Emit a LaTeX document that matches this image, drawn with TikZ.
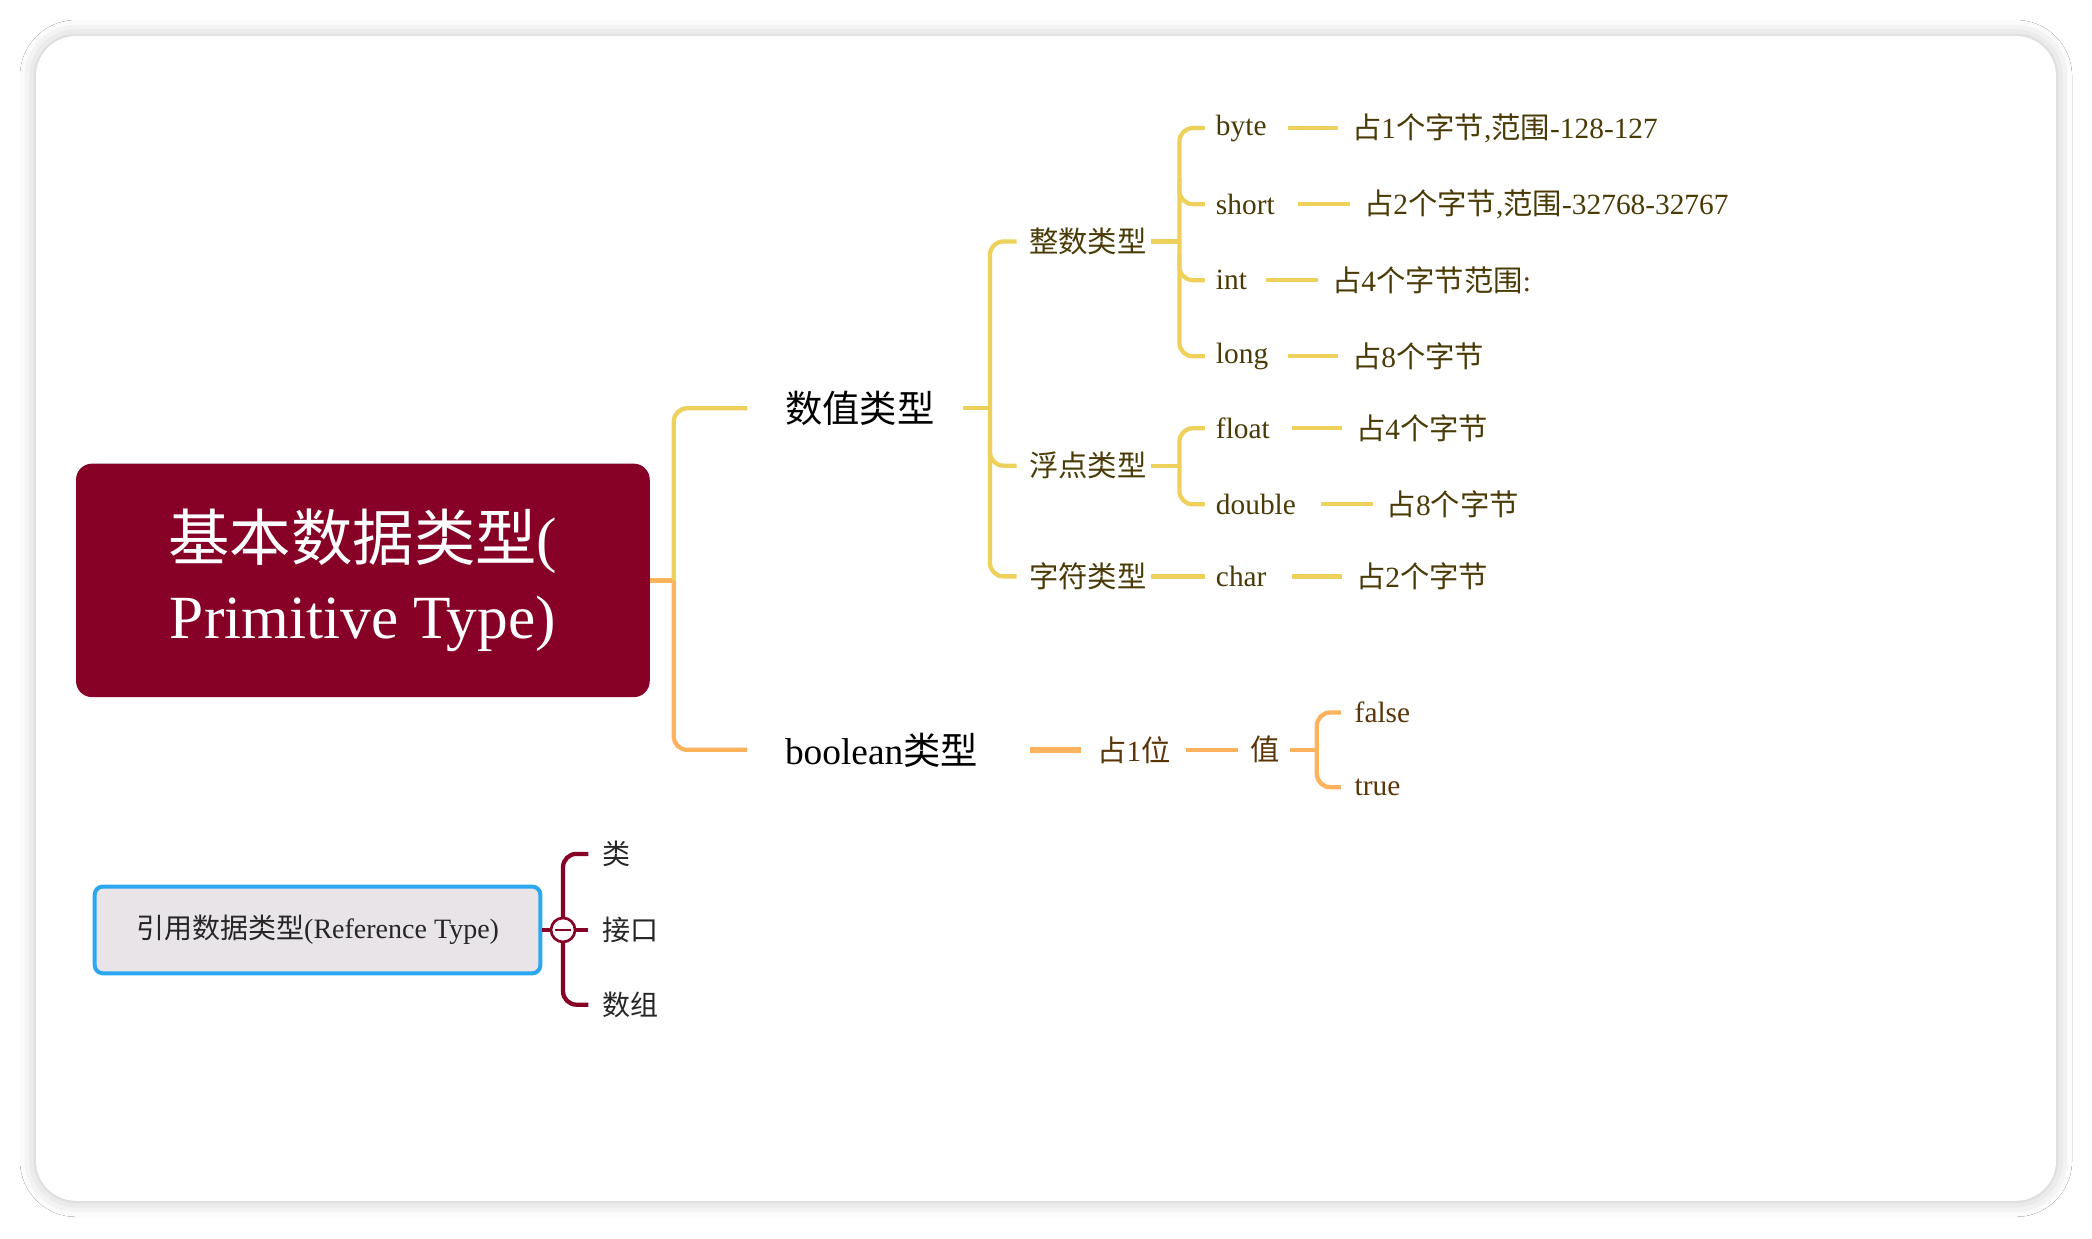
\documentclass[tikz,border=0pt]{standalone}
\usepackage{fontspec}
\setmainfont{Liberation Serif}
\newfontfamily\cjk{Noto Sans CJK SC}
\usetikzlibrary{shadows.blur}
\definecolor{dred}{HTML}{870025}
\definecolor{yel}{HTML}{EDD15A}
\definecolor{org}{HTML}{FDB35E}
\definecolor{ytext}{HTML}{4A3A05}
\definecolor{otext}{HTML}{5A3508}
\definecolor{bblue}{HTML}{2BA8F0}
\definecolor{gfill}{HTML}{E8E4E8}
\tikzset{
 ylab/.style={anchor=west,inner sep=0pt,text=ytext,font=\fontsize{11}{13}\selectfont},
 olab/.style={anchor=west,inner sep=0pt,text=otext,font=\fontsize{11}{13}\selectfont},
 rlab/.style={anchor=west,inner sep=0pt,text=black!85,font=\fontsize{10.5}{13}\selectfont},
 top/.style={anchor=west,inner sep=0pt,text=black,font=\fontsize{14}{16}\selectfont},
 yl/.style={draw=yel,line width=1.6pt},
 ol/.style={draw=org,line width=1.6pt},
 rl/.style={draw=dred,line width=1.6pt},
 br/.style={rounded corners=5pt},
}
\begin{document}
\begin{tikzpicture}[x=0.5pt,y=-0.5pt]
\useasboundingbox (0,0) rectangle (1568,928);
\fill[white] (0,0) rectangle (1568,928);
\fill[white,rounded corners=15pt,blur shadow={shadow xshift=0pt,shadow yshift=0pt,shadow blur radius=6pt,shadow opacity=25}] (27,27) rectangle (1541,900);
% root
\node[fill=dred,rounded corners=6pt,minimum width=215pt,minimum height=87.5pt,text=white,align=center,font=\fontsize{23}{29}\selectfont] (root) at (272,435) {{\cjk 基本数据类型}(\\Primitive Type)};
% main branches
\coordinate (j) at (505,435);
\draw[ol] (root.east) -- (j);
\draw[yl,br] (j) -- (505,306) -- (560,306);
\draw[ol,br] (j) -- (505,562) -- (560,562);
\node[top] (num) at (588,306) {\cjk 数值类型};
\node[top] (bool) at (588,562) {boolean{\cjk 类型}};
% numeric
\draw[yl] (722,306) -- (742,306);
\draw[yl,br] (762,181) -- (742,181) -- (742,432) -- (762,432);
\draw[yl,br] (742,330) -- (742,349) -- (762,349);
\node[ylab] (int) at (771,181) {\cjk 整数类型};
\node[ylab] (flt) at (771,349) {\cjk 浮点类型};
\node[ylab] (chr) at (771,432) {\cjk 字符类型};
% integer
\draw[yl] (863,181) -- (884,181);
\draw[yl,br] (903,96) -- (884,96) -- (884,267) -- (903,267);
\draw[yl,br] (884,134) -- (884,153) -- (903,153);
\draw[yl,br] (884,191) -- (884,210) -- (903,210);
\node[ylab] (b) at (911,96) {byte};
\node[ylab] (s) at (911,153) {short};
\node[ylab] (i) at (911,210) {int};
\node[ylab] (l) at (911,267) {long};
\draw[yl] (965,96) -- (1003,96);
\draw[yl] (973,153) -- (1012,153);
\draw[yl] (949,210) -- (988,210);
\draw[yl] (965,267) -- (1003,267);
\node[ylab] (bv) at (1013,96) {{\cjk 占}1{\cjk 个字节},{\cjk 范围}-128-127};
\node[ylab] (sv) at (1022,153) {{\cjk 占}2{\cjk 个字节},{\cjk 范围}-32768-32767};
\node[ylab] (iv) at (998,210) {{\cjk 占}4{\cjk 个字节范围}:};
\node[ylab] (lv) at (1013,267) {{\cjk 占}8{\cjk 个字节}};
% float
\draw[yl] (863,349) -- (884,349);
\draw[yl,br] (903,321) -- (884,321) -- (884,378) -- (903,378);
\node[ylab] (f) at (911,321) {float};
\node[ylab] (d) at (911,378) {double};
\draw[yl] (968,321) -- (1006,321);
\draw[yl] (990,378) -- (1029,378);
\node[ylab] (fv) at (1016,321) {{\cjk 占}4{\cjk 个字节}};
\node[ylab] (dv) at (1039,378) {{\cjk 占}8{\cjk 个字节}};
% char
\draw[yl] (863,432) -- (903,432);
\node[ylab] (c) at (911,432) {char};
\draw[yl] (968,432) -- (1006,432);
\node[ylab] (cv) at (1016,432) {{\cjk 占}2{\cjk 个字节}};
% boolean
\draw[draw=org,line width=2.2pt] (772,562) -- (810,562);
\node[olab] (b1) at (822,562) {{\cjk 占}1{\cjk 位}};
\draw[ol] (889,562) -- (928,562);
\node[olab] (val) at (937,562) {\cjk 值};
\draw[ol] (967,562) -- (987,562);
\draw[ol,br] (1005,534) -- (987,534) -- (987,590) -- (1005,590);
\node[olab] (fa) at (1015,534) {false};
\node[olab] (tr) at (1015,590) {true};
% reference
\node[draw=bblue,line width=1.5pt,fill=gfill,rounded corners=3pt,minimum width=167pt,minimum height=32.5pt,inner sep=0pt,font=\fontsize{10.5}{13}\selectfont,text=black!85] (ref) at (238,697) {{\cjk 引用数据类型}(Reference Type)};
\draw[rl] (ref.east) -- (441,697);
\draw[rl,br] (441,640) -- (422,640) -- (422,753) -- (441,753);
\node[draw=dred,fill=white,line width=1pt,circle,minimum size=9pt,inner sep=0pt] (tog) at (422,697) {};
\draw[dred,line width=1pt] (416,697) -- (428,697);
\node[rlab] (k1) at (451,640) {\cjk 类};
\node[rlab] (k2) at (451,697) {\cjk 接口};
\node[rlab] (k3) at (451,753) {\cjk 数组};
\end{tikzpicture}
\end{document}
